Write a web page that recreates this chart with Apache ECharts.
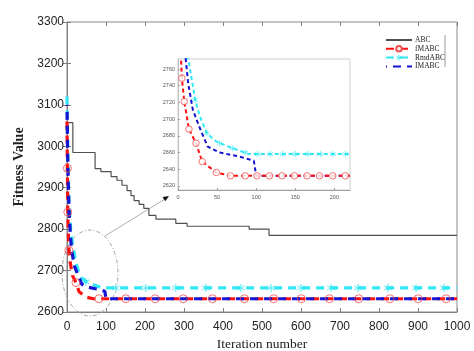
<!DOCTYPE html>
<html>
<head>
<meta charset="utf-8">
<script src="https://cdn.jsdelivr.net/npm/echarts@6/dist/echarts.min.js"></script>
<style>
  html, body { margin: 0; padding: 0; background: #fff; }
  #chart { width: 474px; height: 351px; }
</style>
</head>
<body>
<div id="chart"></div>
<script>
// tick labels
const xTicks = [0, 100, 200, 300, 400, 500, 600, 700, 800, 900, 1000];
const yTicks = [2600, 2700, 2800, 2900, 3000, 3100, 3200, 3300];
const insetXTicks = [0, 50, 100, 150, 200];
const insetYTicks = [2620, 2640, 2660, 2680, 2700, 2720, 2740, 2760];

// ABC (step changes: value holds until next iteration)
const abcIter = [0, 15, 72, 87, 113, 128, 141, 154, 164, 172, 185, 197, 210, 228, 279, 308, 467, 518, 1000];
const abcVal = [3057, 2985, 2946, 2939, 2927, 2918, 2906, 2893, 2881, 2869, 2860, 2850, 2833, 2824, 2814, 2807, 2800, 2785, 2785];

// fMABC
const fmIter = [0, 1, 2, 4, 5, 8, 14, 23, 31, 49, 67, 1000];
const fmVal = [3060, 2947, 2841, 2770, 2749, 2721, 2688, 2671, 2649, 2636, 2632, 2632];
const fmMarkIter = [1, 2, 5, 23, 82, 151, 226, 298, 373, 455, 530, 601, 673, 748, 828, 900, 972];
const fmMarkVal = [2947, 2841, 2749, 2671, 2632, 2632, 2632, 2632, 2632, 2632, 2632, 2632, 2632, 2632, 2632, 2632, 2632];
const fmInsetMarkIter = [5, 8, 14, 23, 31, 49, 67, 86, 101, 117, 133, 149, 165, 181, 198, 214];
const fmInsetMarkVal = [2749, 2721, 2688, 2671, 2649, 2636, 2632, 2632, 2632, 2632, 2632, 2632, 2632, 2632, 2632, 2632];

// RmdABC
const rmIter = [0, 2, 5, 10, 15, 22, 28, 37, 49, 70, 91, 1000];
const rmVal = [3120, 2980, 2870, 2790, 2762, 2723, 2703, 2683, 2673, 2665, 2658, 2658];
const rmMarkIter = [48, 125, 202, 279, 356, 446, 523, 600, 677, 746, 823, 895, 967];
const rmMarkVal = [2673, 2658, 2658, 2658, 2658, 2658, 2658, 2658, 2658, 2658, 2658, 2658, 2658];
const rmInsetMarkIter = [22, 37, 53, 70, 86, 102, 118, 134, 150, 166, 182, 198, 214];
const rmInsetMarkVal = [2723, 2683, 2671, 2665, 2660, 2658, 2658, 2658, 2658, 2658, 2658, 2658, 2658];

// IMABC
const imIter = [0, 2, 5, 9, 13, 19, 28, 38, 53, 79, 97, 100, 1000];
const imVal = [3100, 2960, 2850, 2780, 2743, 2711, 2689, 2667, 2660, 2655, 2650, 2632, 2632];

const pairs = (xs, ys) => xs.map((x, i) => [x, ys[i]]);
const plain = v => String(v);

const RED = '#ff1010';
const CIRCLE = '#f05050';
const CYAN = '#30e8f5';
const BLUE = '#1414d2';
const GRAY = '#505050';
const NOFILL = 'rgba(0,0,0,0)';
const SERIF = '"Liberation Serif", "DejaVu Serif", serif';
const SANS = 'Arial, "Liberation Sans", sans-serif';
const asterisk = 'path://M-0.6,-5H0.6V-1L3.6,-3L4.2,-2L1,0L4.2,2L3.6,3L0.6,1V5H-0.6V1L-3.6,3L-4.2,2L-1,0L-4.2,-2L-3.6,-3L-0.6,-1Z';

const chart = echarts.init(document.getElementById('chart'), null, { renderer: 'canvas' });

function mainLine(name, data, color, width, dash, offset, z, extra) {
  return Object.assign({
    name: name, type: 'line', xAxisIndex: 0, yAxisIndex: 0, data: data,
    showSymbol: false, symbol: 'none', z: z, animation: false,
    lineStyle: { color: color, width: width, type: dash, dashOffset: offset || 0 },
    itemStyle: { color: NOFILL }
  }, extra || {});
}

chart.setOption({
  animation: false,
  backgroundColor: '#fff',
  grid: [
    { left: 67, right: 17, top: 22, bottom: 39, show: true, borderColor: '#8a8a8a', borderWidth: 1, backgroundColor: 'transparent', outerBoundsMode: 'none' },
    { left: 178, right: 124, top: 59, bottom: 161, show: true, borderColor: '#cfcfcf', borderWidth: 1, backgroundColor: '#fff', outerBoundsMode: 'none', z: 5 }
  ],
  legend: {
    left: 383, top: 34, orient: 'vertical',
    itemWidth: 26, itemHeight: 7, itemGap: 0.8,
    data: ['ABC', 'fMABC', 'RmdABC', 'IMABC'],
    textStyle: { fontFamily: SERIF, fontSize: 7.5, color: '#222', padding: [0, 0, 0, -2] },
    backgroundColor: '#fff', padding: [2, 4, 2, 2]
  },
  xAxis: [
    {
      gridIndex: 0, type: 'value', min: 0, max: 1000, position: 'bottom',
      axisLine: { lineStyle: { color: '#808080' } },
      axisTick: { inside: true, length: 4, customValues: xTicks, lineStyle: { color: '#808080' } },
      axisLabel: { customValues: xTicks, formatter: plain, fontFamily: SANS, fontSize: 12, color: '#222', margin: 9 },
      splitLine: { show: false },
      name: 'Iteration number', nameLocation: 'middle', nameGap: 25,
      nameTextStyle: { fontFamily: SERIF, fontSize: 13.5, color: '#222' }
    },
    {
      gridIndex: 0, type: 'value', min: 0, max: 1000, position: 'top',
      axisLine: { show: false },
      axisTick: { inside: true, length: 4, customValues: xTicks, lineStyle: { color: '#808080' } },
      axisLabel: { show: false }, splitLine: { show: false }
    },
    {
      gridIndex: 1, type: 'value', min: 0, max: 220, position: 'bottom',
      axisLine: { lineStyle: { color: '#a0a0a0' } },
      axisTick: { inside: true, length: 2, customValues: insetXTicks, lineStyle: { color: '#a0a0a0' } },
      axisLabel: { customValues: insetXTicks, formatter: plain, fontFamily: SANS, fontSize: 5.5, color: '#555', margin: 4 },
      splitLine: { show: false }, z: 6
    }
  ],
  yAxis: [
    {
      gridIndex: 0, type: 'value', min: 2600, max: 3300, position: 'left',
      axisLine: { show: true, lineStyle: { color: '#808080' } },
      axisTick: { show: true, inside: true, length: 4, customValues: yTicks, lineStyle: { color: '#808080' } },
      axisLabel: { customValues: yTicks, formatter: plain, fontFamily: SANS, fontSize: 12, color: '#222', margin: 3 },
      splitLine: { show: false },
      name: 'Fitness Value', nameLocation: 'middle', nameGap: 37,
      nameTextStyle: { fontFamily: SERIF, fontSize: 14, fontWeight: 'bold', color: '#222' }
    },
    {
      gridIndex: 0, type: 'value', min: 2600, max: 3300, position: 'right',
      axisLine: { show: false },
      axisTick: { show: true, inside: true, length: 4, customValues: yTicks, lineStyle: { color: '#808080' } },
      axisLabel: { show: false }, splitLine: { show: false }
    },
    {
      gridIndex: 1, type: 'value', min: 2615, max: 2772, position: 'left',
      axisLine: { show: true, lineStyle: { color: '#c0c0c0' } },
      axisTick: { show: true, inside: true, length: 2, customValues: insetYTicks, lineStyle: { color: '#a0a0a0' } },
      axisLabel: { customValues: insetYTicks, formatter: plain, fontFamily: SANS, fontSize: 5.5, color: '#555', margin: 3 },
      splitLine: { show: false }, z: 6
    }
  ],
  series: [
    mainLine('ABC', pairs(abcIter, abcVal), GRAY, 1.2, 'solid', 0, 2, { step: 'end' }),
    mainLine('fMABC', pairs(fmIter, fmVal), RED, 3.2, [8, 6], 0, 3,
      { symbol: 'emptyCircle', symbolSize: 7, itemStyle: { color: CIRCLE } }),
    mainLine('RmdABC', pairs(rmIter, rmVal), CYAN, 3.2, [8, 6], 0, 2,
      { symbol: asterisk, symbolSize: 7, itemStyle: { color: CYAN } }),
    mainLine('IMABC', pairs(imIter, imVal), BLUE, 3.2, [8, 6], 7, 4),
    {
      name: 'fMABC', type: 'scatter', xAxisIndex: 0, yAxisIndex: 0, z: 5,
      data: pairs(fmMarkIter, fmMarkVal), symbol: 'circle', symbolSize: 8,
      itemStyle: { color: NOFILL, borderColor: CIRCLE, borderWidth: 1 }
    },
    {
      name: 'RmdABC', type: 'scatter', xAxisIndex: 0, yAxisIndex: 0, z: 3,
      data: pairs(rmMarkIter, rmMarkVal), symbol: asterisk, symbolSize: 8,
      itemStyle: { color: CYAN }
    },
    // inset
    mainLine('RmdABC', pairs(rmIter, rmVal), CYAN, 2, [4, 3], 0, 7, { xAxisIndex: 2, yAxisIndex: 2 }),
    mainLine('IMABC', pairs(imIter, imVal), BLUE, 2, [4, 3], 0, 8, { xAxisIndex: 2, yAxisIndex: 2 }),
    mainLine('fMABC', pairs(fmIter, fmVal), RED, 2, [4, 3], 3, 8, { xAxisIndex: 2, yAxisIndex: 2 }),
    {
      name: 'fMABC', type: 'scatter', xAxisIndex: 2, yAxisIndex: 2, z: 9,
      data: pairs(fmInsetMarkIter, fmInsetMarkVal), symbol: 'circle', symbolSize: 6.5,
      itemStyle: { color: '#fff', borderColor: CIRCLE, borderWidth: 1 }
    },
    {
      name: 'RmdABC', type: 'scatter', xAxisIndex: 2, yAxisIndex: 2, z: 7,
      data: pairs(rmInsetMarkIter, rmInsetMarkVal), symbol: asterisk, symbolSize: 6,
      itemStyle: { color: CYAN }
    }
  ],
  graphic: [
    { type: 'ellipse', shape: { cx: 90, cy: 273, rx: 28, ry: 43 }, z: 1,
      style: { fill: 'none', stroke: '#a8a8a8', lineWidth: 1, lineDash: [4, 2, 1, 2] } },
    { type: 'line', shape: { x1: 105, y1: 236, x2: 165, y2: 199 }, z: 1,
      style: { stroke: '#b0b0b0', lineWidth: 1 } },
    { type: 'polygon', shape: { points: [[169, 196], [165.2, 201.3], [162.6, 197.1]] }, z: 1,
      style: { fill: '#111' } },
    { type: 'line', shape: { x1: 445, y1: 35, x2: 445, y2: 67 }, z: 10,
      style: { stroke: '#9a9a9a', lineWidth: 1 } }
  ]
});
</script>
</body>
</html>
